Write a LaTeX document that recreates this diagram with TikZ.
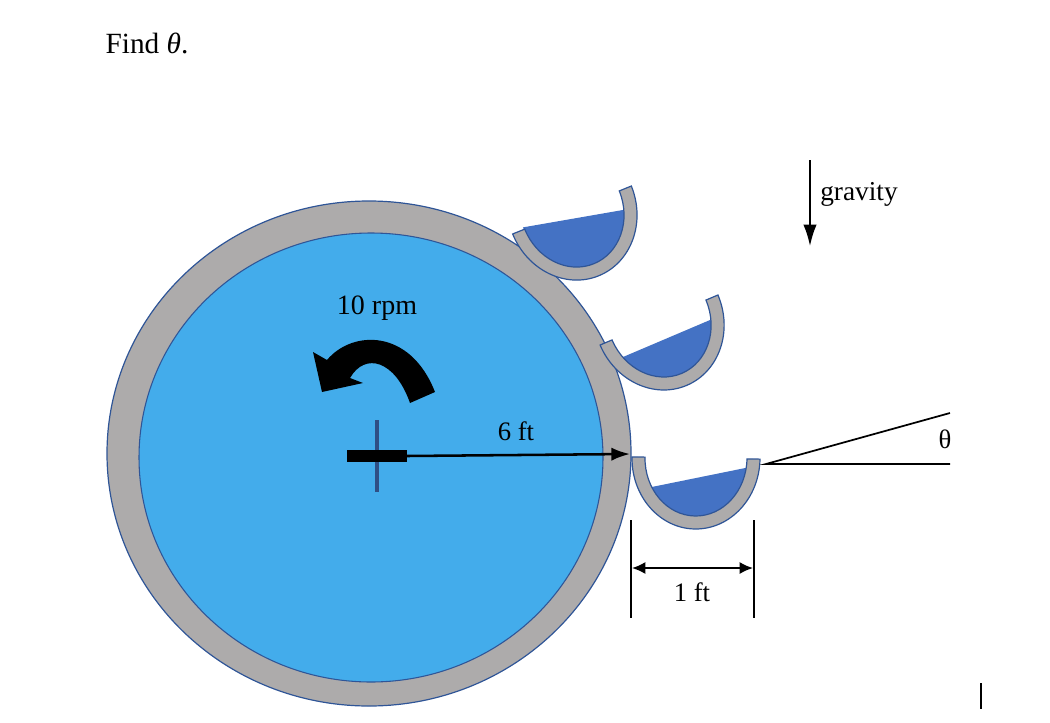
\documentclass[tikz,border=0pt]{standalone}
\usepackage{fontspec}
\setmainfont{Liberation Serif}
\usetikzlibrary{arrows.meta}
\definecolor{rimgray}{HTML}{ADABAB}
\definecolor{edgeblue}{HTML}{2F5597}
\definecolor{wheelblue}{HTML}{43ACEB}
\definecolor{waterblue}{HTML}{4472C4}
\definecolor{crossblue}{HTML}{2F4F85}
\tikzset{
  x=0.75pt,y=-0.75pt,
  rim/.style={fill=rimgray,draw=edgeblue,line width=0.9pt},
  disc/.style={fill=wheelblue,draw=edgeblue,line width=0.8pt},
  water/.style={fill=waterblue},
  lab/.style={inner sep=0pt,font=\fontsize{20}{24}\selectfont},
  thinline/.style={draw=black,line width=1.3pt},
  dimarrow/.style={draw=black,line width=1.3pt,{Latex[length=10pt,width=9pt]}-{Latex[length=10pt,width=9pt]}},
  mainarrow/.style={draw=black,line width=1.9pt,-{Latex[length=14pt,width=10pt]}},
}
\newcommand{\bucketshape}[4]{%
  \begin{scope}
    \path[clip,shift={(#1)},rotate=#2] (0,0) ellipse [x radius=52,y radius=59];
    \fill[water] (#3) -- (#4) -- ++(0,150) -| (#3) -- cycle;
  \end{scope}
  \path[rim,shift={(#1)},rotate=#2] (-64,0) -- (-51,0)
    arc[start angle=180,end angle=0,x radius=51,y radius=58]
    -- (64,0)
    arc[start angle=0,end angle=180,x radius=64,y radius=71] -- cycle;
}
\begin{document}
\begin{tikzpicture}
\useasboundingbox (0,0) rectangle (1050,722);
\node[inner sep=0pt,font=\fontsize{22}{26}\selectfont] (title) at (147,43) {Find \textit{θ}.};
% wheel
\path[rim] (369,453.5) ellipse [x radius=262,y radius=252.5];
\path[disc] (371,457.5) ellipse [x radius=232,y radius=224.5];
% buckets
\bucketshape{572,210}{22}{505,230.5}{643,206.5}
\bucketshape{659,320}{23}{603,365.5}{730,311.5}
\bucketshape{696,458}{-1}{632,491}{765,464}
% rotation arrow
\fill[black] (313,352) -- (327,360) .. controls (352,330) and (410,328) .. (435,392)
  -- (410,403)
  .. controls (395,360) and (365,352) .. (350,378)
  -- (363,383) -- (322,392) -- cycle;
\node[lab,font=\fontsize{21}{25}\selectfont] (rpm) at (377,308) {10 rpm};
% centre mark
\coordinate (ctop) at (377,420);
\coordinate (cbot) at (377,492);
\draw[crossblue,line width=3pt] (ctop) -- (cbot);
\fill[black] (347,450) rectangle (407,462);
\coordinate (cright) at (407,456);
\coordinate (rimpt) at (630,454);
\draw[mainarrow] (cright) -- (rimpt);
\node[lab] (six) at (516,431) {6 ft};
% 1 ft dimension
\coordinate (d1a) at (631,520);
\coordinate (d1b) at (631,618);
\coordinate (d2a) at (754,520);
\coordinate (d2b) at (754,618);
\draw[thinline] (d1a) -- (d1b);
\draw[thinline] (d2a) -- (d2b);
\coordinate (da) at (632,568);
\coordinate (db) at (753,568);
\draw[dimarrow] (da) -- (db);
\node[lab] (oneft) at (692,592) {1 ft};
% angle
\coordinate (apex) at (766,464);
\coordinate (aup) at (950,413);
\coordinate (aflat) at (950,464);
\draw[thinline] (aup) -- (apex) -- (aflat);
\node[inner sep=0pt,font=\fontsize{20}{24}\selectfont] (theta) at (945,439) {θ};
% gravity
\coordinate (ga) at (810,160);
\coordinate (gb) at (810,246);
\draw[draw=black,line width=1.3pt,-{Latex[length=16pt,width=10pt]}] (ga) -- (gb);
\node[lab,font=\fontsize{20.5}{24}\selectfont] (grav) at (859,194) {gravity};
% cursor
\coordinate (cura) at (981,683);
\coordinate (curb) at (981,709);
\draw[black,line width=1.5pt] (cura) -- (curb);
\end{tikzpicture}
\end{document}
